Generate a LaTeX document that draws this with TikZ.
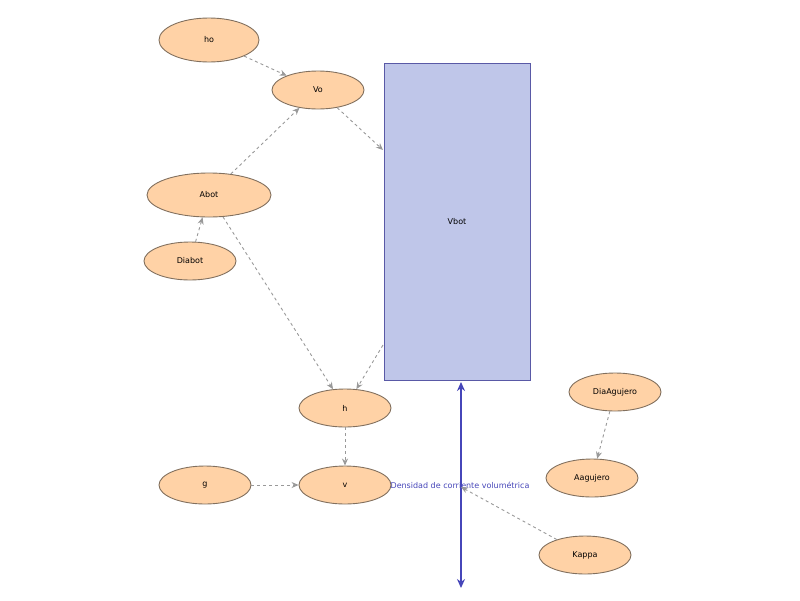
\documentclass[tikz,border=0pt]{standalone}
\usepackage{fontspec}
\setmainfont{DejaVu Sans}
\usetikzlibrary{arrows.meta,shapes.geometric}
\begin{document}
\begin{tikzpicture}[x=1pt,y=-1pt,
  var/.style={ellipse,draw=black!60!brown!70,line width=0.9pt,fill=orange!35!white,minimum width=92pt,minimum height=38pt,inner sep=0pt,font=\fontsize{8}{10}\selectfont},
  dep/.style={draw=gray!80,dashed,line width=0.9pt,-{Stealth[length=7pt,width=6pt]}},
  flow/.style={draw=blue!45!gray,line width=2pt,{Stealth[length=9pt,width=8pt]}-{Stealth[length=9pt,width=8pt]}}]
\useasboundingbox (0,0) rectangle (800,600);
\node[font=\fontsize{8}{10}\selectfont,text=blue!45!gray] (lbl) at (460,485) {Densidad de corriente volumétrica};
\node[draw=blue!30!gray,fill=cyan!35!blue!25!white,line width=0.9pt,minimum width=146pt,minimum height=317pt,inner sep=0pt,font=\fontsize{8}{10}\selectfont] (Vbot) at (457,221.5) {Vbot};
\node[var,minimum width=100pt,minimum height=44pt] (ho) at (209,40) {ho};
\node[var] (Vo) at (318,90) {Vo};
\node[var,minimum width=124pt,minimum height=44pt] (Abot) at (209,195) {Abot};
\node[var] (Diabot) at (190,261) {Diabot};
\node[var] (h) at (345,408) {h};
\node[var] (v) at (345,485) {v};
\node[var] (g) at (205,485) {g};
\node[var] (DiaA) at (615,392) {DiaAgujero};
\node[var] (Aag) at (592,478) {Aagujero};
\node[var] (Kappa) at (585,555) {Kappa};
\coordinate (ftop) at (461,382);
\coordinate (fbot) at (461,588);
\coordinate (fmid) at (461,487);
\draw[flow] (ftop) -- (fbot);
\draw[dep] (ho) -- (Vo);
\draw[dep] (Vo) -- (383,150);
\draw[dep] (Abot) -- (Vo);
\draw[dep] (Diabot) -- (Abot);
\draw[dep] (Abot) -- (h);
\draw[dep] (383,345) -- (h);
\draw[dep] (h) -- (v);
\draw[dep] (g) -- (v);
\draw[dep] (DiaA) -- (Aag);
\draw[dep] (Kappa) -- (fmid);
\end{tikzpicture}
\end{document}
